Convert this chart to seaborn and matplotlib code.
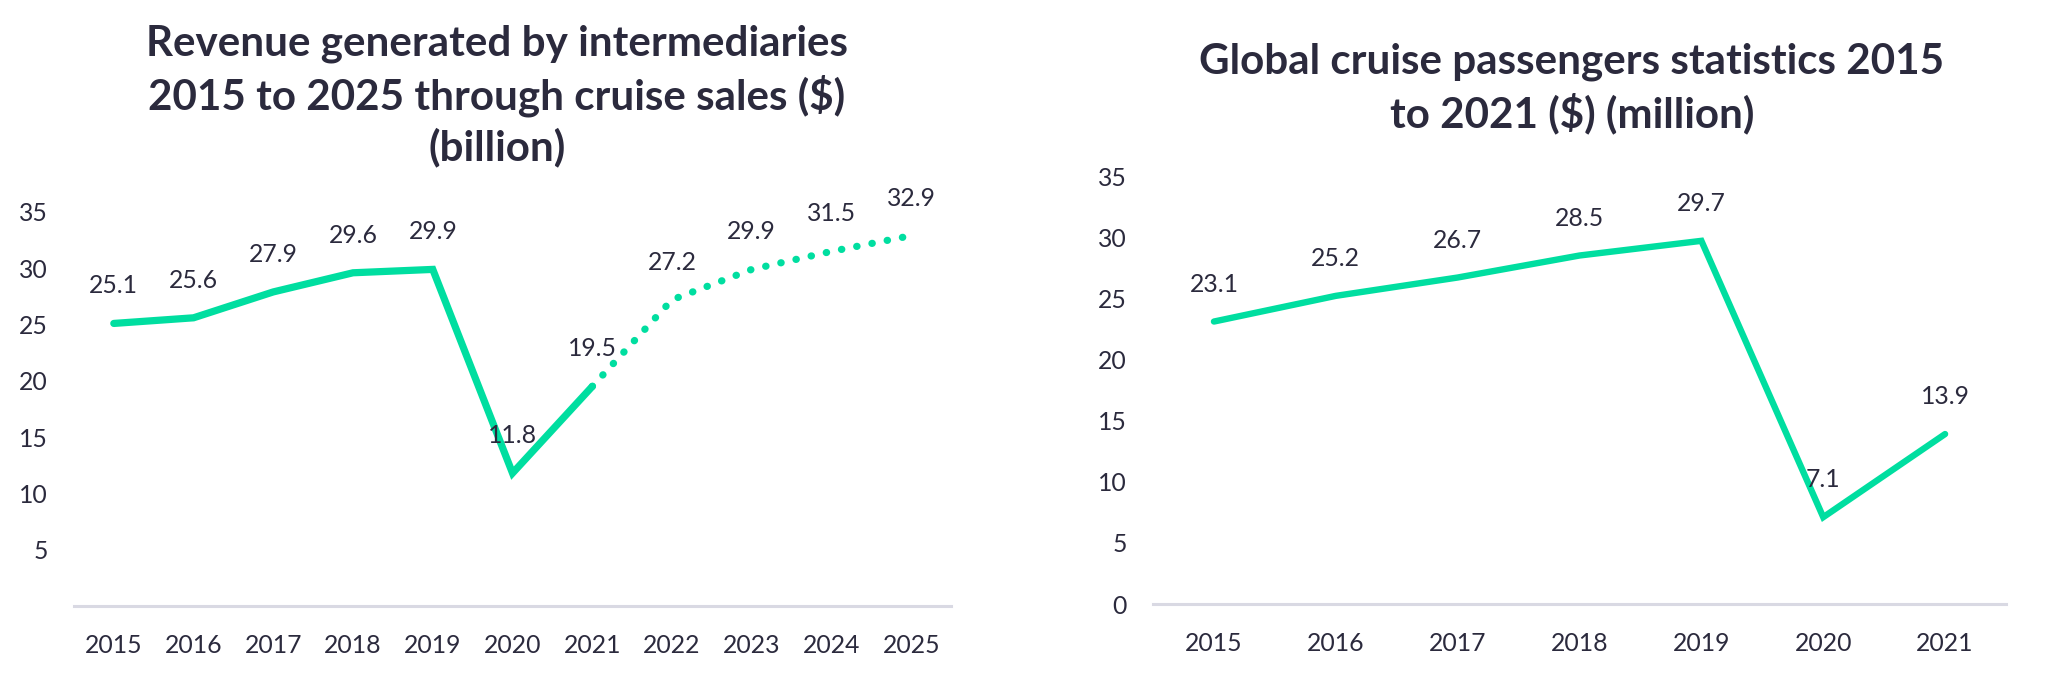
import numpy as np
import pandas as pd
import matplotlib
matplotlib.use('Agg')
import matplotlib.pyplot as plt
import seaborn as sns

sns.set_style('white')
plt.rcParams['font.family'] = ['Lato', 'DejaVu Sans']

# revenue of intermediaries (billion $), 2022 onward is forecast
rev_years = [2015, 2016, 2017, 2018, 2019, 2020, 2021, 2022, 2023, 2024, 2025]
rev_values = [25.1, 25.6, 27.9, 29.6, 29.9, 11.8, 19.5, 27.2, 29.9, 31.5, 32.9]
last_actual = 2021

# global cruise passengers (million)
pax_years = [2015, 2016, 2017, 2018, 2019, 2020, 2021]
pax_values = [23.1, 25.2, 26.7, 28.5, 29.7, 7.1, 13.9]

title_left = 'Revenue generated by intermediaries\n2015 to 2025 through cruise sales ($)\n(billion)'
title_right = 'Global cruise passengers statistics 2015\nto 2021 ($) (million)'

green = '#00dea0'
ink = '#2b2a3d'
axis_grey = '#d9d9e3'

rev = pd.DataFrame({'year': rev_years, 'value': rev_values})
pax = pd.DataFrame({'year': pax_years, 'value': pax_values})
actual = rev[rev['year'] <= last_actual]
forecast = rev[rev['year'] >= last_actual]

fig = plt.figure(figsize=(20.48, 6.76), dpi=100)
ax0 = fig.add_axes([0.0361, 0.1036, 0.4283, 0.5828])
ax1 = fig.add_axes([0.5630, 0.1065, 0.4165, 0.6331])

sns.lineplot(data=actual, x='year', y='value', ax=ax0, color=green, lw=5.2,
             solid_capstyle='round', solid_joinstyle='miter')
sns.lineplot(data=forecast, x='year', y='value', ax=ax0, color=green, lw=5.2,
             linestyle=(0, (0.05, 2.1)), dash_capstyle='round')
sns.lineplot(data=pax, x='year', y='value', ax=ax1, color=green, lw=4.6,
             solid_capstyle='round', solid_joinstyle='miter')

for ax, df, years, yticks in [(ax0, rev, rev_years, [5, 10, 15, 20, 25, 30, 35]),
                              (ax1, pax, pax_years, [0, 5, 10, 15, 20, 25, 30, 35])]:
    ax.set_xlim(years[0] - 0.5, years[-1] + 0.5)
    ax.set_ylim(0, 35)
    ax.set_xticks(years)
    ax.set_xticklabels([str(y) for y in years])
    ax.set_yticks(yticks)
    ax.set_xlabel('')
    ax.set_ylabel('')
    for s in ['top', 'right', 'left']:
        ax.spines[s].set_visible(False)
    ax.spines['bottom'].set_color(axis_grey)
    ax.spines['bottom'].set_linewidth(2.2)
    ax.tick_params(axis='both', length=0, labelsize=17.8, colors=ink)
    ax.tick_params(axis='x', pad=20)
    ax.tick_params(axis='y', pad=19)
    ax.patch.set_alpha(0)
    for x, v in zip(df['year'], df['value']):
        ax.annotate(f'{v:.1f}', (x, v), xytext=(0, 27), textcoords='offset points',
                    ha='center', va='center', fontsize=17.8, color=ink,
                    annotation_clip=False)

fig.text(0.2427, 0.964, title_left, ha='center', va='top', fontsize=30.3,
         fontweight='bold', color=ink, linespacing=1.32)
fig.text(0.7676, 0.937, title_right, ha='center', va='top', fontsize=30.3,
         fontweight='bold', color=ink, linespacing=1.32)

fig.savefig('out.png', dpi=100)
